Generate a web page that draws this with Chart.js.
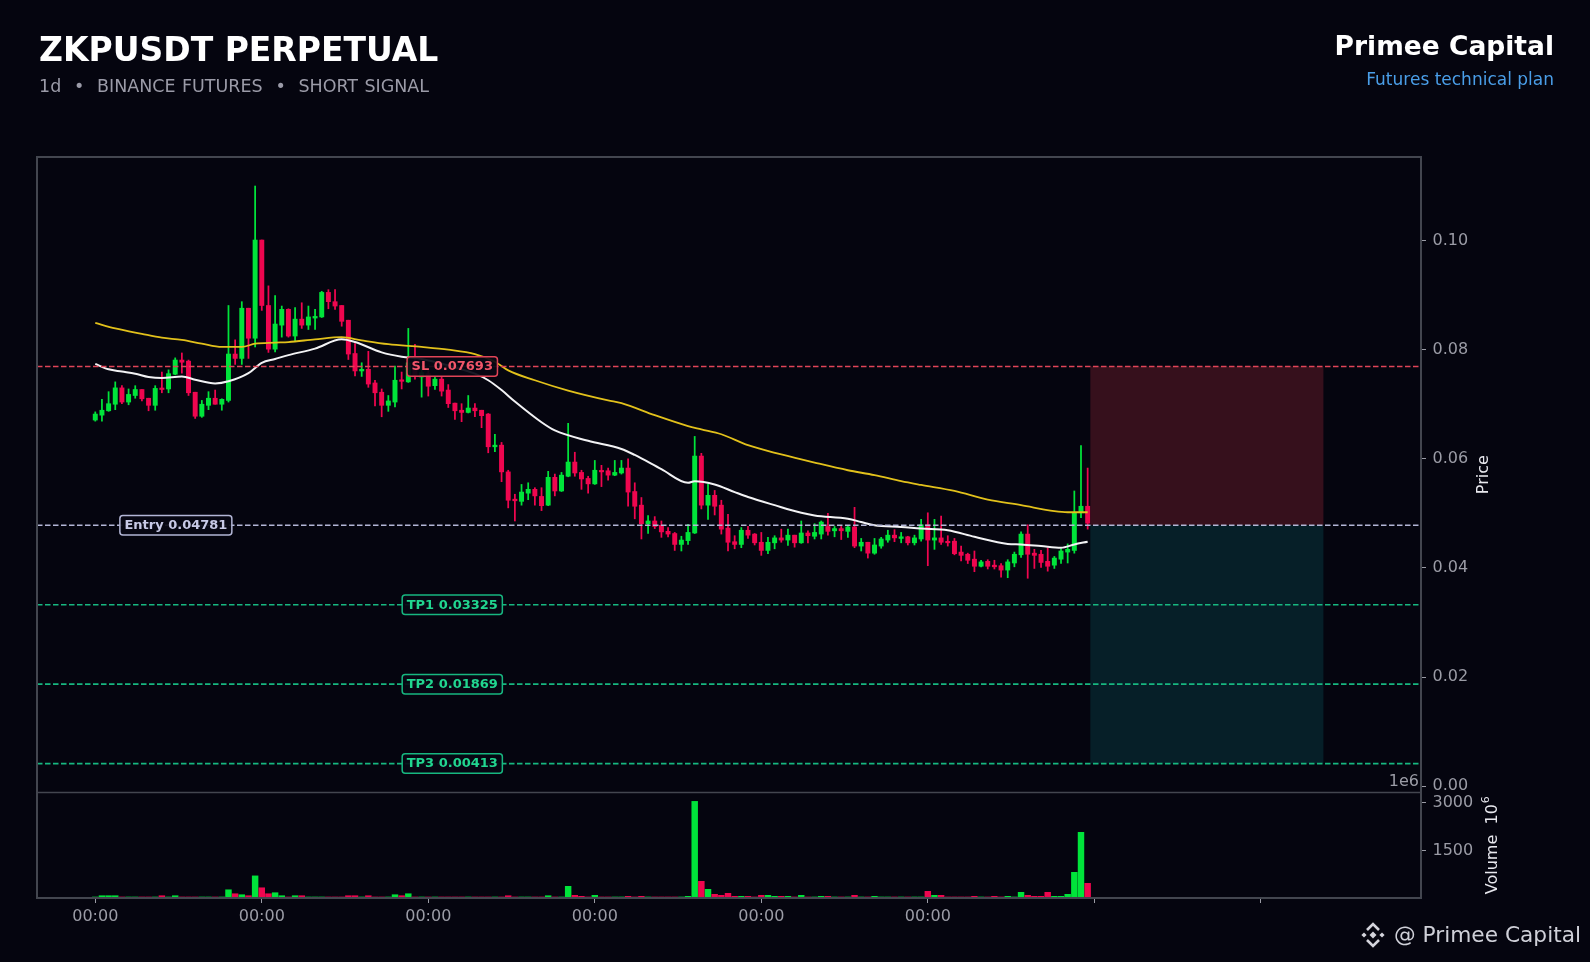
<!DOCTYPE html>
<html>
<head>
<meta charset="utf-8">
<title>ZKPUSDT PERPETUAL</title>
<script src="https://cdn.jsdelivr.net/npm/chart.js@4.4.1/dist/chart.umd.min.js"></script>
<style>
  html, body { margin: 0; padding: 0; background: #05050f; }
  #wrap { position: relative; width: 1590px; height: 962px; overflow: hidden; font-family: "DejaVu Sans", sans-serif; }
  #chart { position: absolute; left: 0; top: 0; }
  .t { position: absolute; white-space: pre; line-height: 1; }
  #title { left: 39px; top: 33px; font-size: 33px; font-weight: bold; color: #ffffff; }
  #subtitle { left: 39px; top: 78px; font-size: 17.5px; word-spacing: 0.8px; color: #9b9ba8; }
  #brand { right: 36px; top: 33px; font-size: 26.5px; font-weight: bold; color: #ffffff; }
  #tagline { right: 36px; top: 71px; font-size: 17px; color: #4a9ee8; }
  #watermark { right: 9px; top: 924px; font-size: 21.7px; color: #cfd0d8; }
</style>
</head>
<body>
<div id="wrap">
  <canvas id="chart" width="1590" height="962"></canvas>
  <div class="t" id="title">ZKPUSDT PERPETUAL</div>
  <div class="t" id="subtitle">1d  •  BINANCE FUTURES  •  SHORT SIGNAL</div>
  <div class="t" id="brand">Primee Capital</div>
  <div class="t" id="tagline">Futures technical plan</div>
  <div class="t" id="watermark">@ Primee Capital</div>
</div>
<script>
// daily candles
const opens = [
  0.0671,0.0680,0.0688,0.0700,0.0730,0.0704,0.0716,0.0727,0.0711,0.0698,
  0.0729,0.0728,0.0755,0.0781,0.0779,0.0722,0.0678,0.0698,0.0711,0.0700,
  0.0707,0.0792,0.0784,0.0876,0.0821,0.1001,0.0881,0.0801,0.0845,0.0874,
  0.0825,0.0856,0.0845,0.0858,0.0860,0.0905,0.0888,0.0881,0.0854,0.0793,
  0.0761,0.0764,0.0739,0.0722,0.0698,0.0704,0.0744,0.0741,0.0776,0.0750,
  0.0756,0.0734,0.0746,0.0726,0.0702,0.0689,0.0685,0.0693,0.0689,0.0682,
  0.0622,0.0625,0.0576,0.0526,0.0522,0.0537,0.0544,0.0531,0.0515,0.0566,
  0.0541,0.0568,0.0594,0.0575,0.0564,0.0554,0.0578,0.0578,0.0570,0.0574,
  0.0583,0.0540,0.0515,0.0481,0.0486,0.0478,0.0467,0.0463,0.0443,0.0450,
  0.0464,0.0605,0.0515,0.0533,0.0515,0.0473,0.0448,0.0443,0.0469,0.0462,
  0.0447,0.0432,0.0446,0.0455,0.0451,0.0460,0.0446,0.0464,0.0458,0.0462,
  0.0476,0.0468,0.0472,0.0467,0.0475,0.0440,0.0447,0.0427,0.0440,0.0451,
  0.0460,0.0454,0.0457,0.0446,0.0453,0.0479,0.0451,0.0455,0.0448,0.0449,
  0.0429,0.0425,0.0416,0.0403,0.0412,0.0405,0.0404,0.0396,0.0409,0.0424,
  0.0462,0.0427,0.0425,0.0412,0.0405,0.0416,0.0429,0.0432,0.0501,0.0513
];
const highs = [
  0.0686,0.0709,0.0723,0.0741,0.0734,0.0728,0.0734,0.0727,0.0711,0.0734,
  0.0759,0.0763,0.0785,0.0794,0.0781,0.0722,0.0707,0.0723,0.0726,0.0710,
  0.0881,0.0818,0.0888,0.0876,0.1100,0.1001,0.0917,0.0899,0.0880,0.0875,
  0.0877,0.0886,0.0880,0.0874,0.0907,0.0910,0.0910,0.0881,0.0854,0.0811,
  0.0776,0.0797,0.0744,0.0728,0.0716,0.0770,0.0759,0.0839,0.0810,0.0770,
  0.0762,0.0751,0.0751,0.0736,0.0702,0.0701,0.0716,0.0701,0.0689,0.0683,
  0.0645,0.0630,0.0579,0.0535,0.0553,0.0556,0.0547,0.0547,0.0577,0.0572,
  0.0575,0.0665,0.0612,0.0579,0.0568,0.0597,0.0588,0.0583,0.0597,0.0597,
  0.0600,0.0556,0.0529,0.0496,0.0494,0.0486,0.0474,0.0465,0.0458,0.0480,
  0.0641,0.0610,0.0553,0.0542,0.0524,0.0498,0.0459,0.0474,0.0476,0.0463,
  0.0465,0.0456,0.0459,0.0471,0.0471,0.0460,0.0486,0.0468,0.0481,0.0486,
  0.0500,0.0476,0.0476,0.0477,0.0511,0.0454,0.0447,0.0454,0.0456,0.0469,
  0.0470,0.0465,0.0458,0.0460,0.0489,0.0501,0.0489,0.0495,0.0459,0.0454,
  0.0440,0.0427,0.0431,0.0414,0.0415,0.0414,0.0408,0.0415,0.0429,0.0466,
  0.0479,0.0434,0.0432,0.0437,0.0421,0.0435,0.0444,0.0541,0.0624,0.0583
];
const lows = [
  0.0669,0.0669,0.0687,0.0690,0.0701,0.0699,0.0711,0.0706,0.0688,0.0689,
  0.0721,0.0721,0.0754,0.0757,0.0716,0.0674,0.0676,0.0690,0.0700,0.0689,
  0.0704,0.0773,0.0773,0.0784,0.0805,0.0872,0.0795,0.0796,0.0823,0.0823,
  0.0815,0.0839,0.0837,0.0837,0.0859,0.0875,0.0874,0.0843,0.0782,0.0752,
  0.0751,0.0731,0.0697,0.0677,0.0687,0.0695,0.0728,0.0740,0.0746,0.0713,
  0.0715,0.0727,0.0715,0.0694,0.0672,0.0668,0.0684,0.0677,0.0657,0.0611,
  0.0613,0.0558,0.0510,0.0486,0.0515,0.0525,0.0515,0.0505,0.0514,0.0532,
  0.0540,0.0567,0.0568,0.0544,0.0537,0.0553,0.0549,0.0561,0.0569,0.0572,
  0.0513,0.0490,0.0453,0.0463,0.0472,0.0456,0.0457,0.0432,0.0431,0.0443,
  0.0463,0.0508,0.0489,0.0497,0.0462,0.0431,0.0435,0.0437,0.0454,0.0442,
  0.0423,0.0426,0.0435,0.0447,0.0441,0.0438,0.0445,0.0446,0.0453,0.0453,
  0.0460,0.0457,0.0452,0.0456,0.0437,0.0431,0.0418,0.0425,0.0436,0.0447,
  0.0448,0.0446,0.0442,0.0442,0.0449,0.0404,0.0434,0.0443,0.0440,0.0424,
  0.0413,0.0408,0.0393,0.0402,0.0398,0.0398,0.0383,0.0382,0.0402,0.0419,
  0.0381,0.0399,0.0401,0.0394,0.0399,0.0408,0.0409,0.0427,0.0492,0.0471
];
const closes = [
  0.0682,0.0689,0.0701,0.0730,0.0704,0.0718,0.0727,0.0710,0.0698,0.0729,
  0.0727,0.0756,0.0781,0.0777,0.0721,0.0678,0.0700,0.0711,0.0700,0.0709,
  0.0792,0.0784,0.0876,0.0821,0.1001,0.0881,0.0801,0.0847,0.0874,0.0825,
  0.0856,0.0845,0.0860,0.0861,0.0905,0.0888,0.0880,0.0852,0.0792,0.0761,
  0.0764,0.0737,0.0721,0.0698,0.0706,0.0744,0.0742,0.0776,0.0753,0.0758,
  0.0733,0.0746,0.0724,0.0701,0.0688,0.0685,0.0693,0.0688,0.0679,0.0622,
  0.0625,0.0576,0.0524,0.0523,0.0539,0.0544,0.0532,0.0514,0.0566,0.0541,
  0.0570,0.0594,0.0574,0.0563,0.0554,0.0579,0.0576,0.0570,0.0575,0.0583,
  0.0539,0.0513,0.0481,0.0486,0.0476,0.0466,0.0462,0.0443,0.0451,0.0465,
  0.0605,0.0515,0.0533,0.0513,0.0471,0.0447,0.0443,0.0469,0.0460,0.0446,
  0.0432,0.0447,0.0455,0.0451,0.0460,0.0446,0.0464,0.0459,0.0465,0.0484,
  0.0467,0.0472,0.0468,0.0475,0.0440,0.0447,0.0427,0.0442,0.0453,0.0460,
  0.0455,0.0457,0.0446,0.0455,0.0479,0.0451,0.0455,0.0447,0.0446,0.0426,
  0.0423,0.0414,0.0403,0.0411,0.0403,0.0402,0.0396,0.0411,0.0425,0.0462,
  0.0425,0.0423,0.0410,0.0403,0.0418,0.0431,0.0434,0.0501,0.0513,0.0482
];
// volume in millions
const volumes = [
  31,72,72,72,31,31,31,31,31,31,
  72,31,72,31,31,31,31,31,31,31,
  259,134,103,72,697,322,134,166,72,31,
  72,72,31,31,31,31,31,31,72,72,
  31,72,31,31,31,103,72,134,31,31,
  31,31,31,31,31,31,31,31,31,31,
  31,31,72,31,31,31,31,31,72,31,
  31,368,84,53,25,84,25,25,25,25,
  53,25,53,25,25,25,25,25,25,53,
  3045,525,273,116,84,147,53,53,53,25,
  84,84,53,53,53,25,84,25,25,53,
  53,25,25,25,84,25,25,53,25,25,
  25,25,25,25,25,210,84,84,25,25,
  25,25,53,25,25,53,25,53,25,179,
  84,53,53,179,53,53,116,809,2069,462
];

// moving averages
const fastMaIdx = [0,2,4,6,8,10,13,15,18,20,23,25,27,29,33,37,39,43,46,49,53,57,59,61,63,67,69,74,79,81,85,89,90,93,96,98,102,106,108,113,115,117,121,124,128,132,137,139,142,145,147,149];
const fastMaVal = [0.0774,0.0764,0.0760,0.0756,0.0750,0.0748,0.0751,0.0745,0.0738,0.0742,0.0757,0.0776,0.0783,0.0790,0.0802,0.0819,0.0814,0.0795,0.0787,0.0783,0.0771,0.0756,0.0744,0.0726,0.0705,0.0667,0.0652,0.0633,0.0618,0.0607,0.0581,0.0556,0.0559,0.0553,0.0539,0.0530,0.0515,0.0501,0.0496,0.0490,0.0484,0.0478,0.0475,0.0472,0.0469,0.0457,0.0444,0.0443,0.0440,0.0437,0.0443,0.0448];
const slowMaIdx = [0,3,7,10,13,16,19,22,24,27,29,33,37,40,44,49,53,57,60,62,66,71,77,79,84,89,91,94,98,103,108,113,117,121,124,129,134,139,144,146,149];
const slowMaVal = [0.0849,0.0839,0.0829,0.0822,0.0818,0.0811,0.0805,0.0805,0.0811,0.0813,0.0814,0.0819,0.0823,0.0817,0.0810,0.0805,0.0800,0.0792,0.0778,0.0762,0.0744,0.0725,0.0707,0.0702,0.0680,0.0660,0.0654,0.0645,0.0625,0.0608,0.0593,0.0579,0.0570,0.0559,0.0552,0.0541,0.0525,0.0515,0.0504,0.0502,0.0502];

// trade plan levels
const levelNames  = ['SL', 'Entry', 'TP1', 'TP2', 'TP3'];
const levelValues = [0.07693, 0.04781, 0.03325, 0.01869, 0.00413];

// axis ticks
const tickIndex   = [0, 25, 50, 75, 100, 125, 150, 175];
const tickLabels  = ['00:00', '00:00', '00:00', '00:00', '00:00', '00:00', '', ''];
const priceTicks  = [0, 0.02, 0.04, 0.06, 0.08, 0.10];
const volumeTicks = [1500, 3000];


// ---- look ----
const UP = '#00e43a';
const DOWN = '#ef064f';
const TICK = '#9b9ca6';
const FRAME = '#43464f';

const X_MIN = -8.75, X_MAX = 199.05;
const PRICE_MIN = -0.02051, PRICE_MAX = 0.11532;
const PRICE_FLOOR = -0.00115;    // bottom of the price panel
const VOL_MAX = 23354;

const levelStyles = [
  { line: '#e04457', text: '#f2566a', at: 53.6 },
  { line: '#b3b6d6', text: '#c7c9e6', at: 12.1 },
  { line: '#17b780', text: '#21d690', at: 53.6 },
  { line: '#17b780', text: '#21d690', at: 53.6 },
  { line: '#17b780', text: '#21d690', at: 53.6 }
];

Chart.defaults.font.family = '"DejaVu Sans", sans-serif';

const candleColors = closes.map((c, i) => c >= opens[i] ? UP : DOWN);

const levelDatasets = levelValues.map((v, i) => ({
  type: 'line',
  label: levelNames[i],
  data: [{ x: X_MIN, y: v }, { x: X_MAX, y: v }],
  borderColor: levelStyles[i].line,
  borderWidth: 1.6,
  borderDash: [5.5, 2.5],
  pointRadius: 0,
  yAxisID: 'y',
  order: 0
}));


const tradePlan = {
  id: 'tradePlan',
  beforeDatasetsDraw(chart) {
    const { ctx, scales: { x, y } } = chart;
    const x0 = x.getPixelForValue(149.4);
    const x1 = x.getPixelForValue(184.4);
    const ySL = y.getPixelForValue(levelValues[0]);
    const yEn = y.getPixelForValue(levelValues[1]);
    const yTP = y.getPixelForValue(levelValues[4]);
    ctx.save();
    ctx.fillStyle = '#36101c';
    ctx.fillRect(x0, ySL, x1 - x0, yEn - ySL);
    ctx.fillStyle = '#061f28';
    ctx.fillRect(x0, yEn, x1 - x0, yTP - yEn);
    ctx.restore();
  },
  afterDatasetsDraw(chart) {
    const { ctx, scales: { x, y } } = chart;
    ctx.save();
    ctx.font = 'bold 13px "DejaVu Sans"';
    ctx.textAlign = 'center';
    ctx.textBaseline = 'middle';
    levelValues.forEach((v, i) => {
      const st = levelStyles[i];
      const text = levelNames[i] + ' ' + v.toFixed(5);
      const w = ctx.measureText(text).width + 9;
      const h = 19.5;
      const cx = x.getPixelForValue(st.at);
      const cy = y.getPixelForValue(v);
      ctx.beginPath();
      ctx.roundRect(cx - w / 2, cy - h / 2, w, h, 3);
      ctx.fillStyle = 'rgba(8, 8, 20, 0.92)';
      ctx.fill();
      ctx.lineWidth = 1.5;
      ctx.strokeStyle = st.line;
      ctx.stroke();
      ctx.fillStyle = st.text;
      ctx.fillText(text, cx, cy + 0.5);
    });
    ctx.restore();
  },
  afterDraw(chart) {
    const { ctx, chartArea: a, scales: { y, yv } } = chart;
    ctx.save();
    // panel frame + separator
    ctx.strokeStyle = FRAME;
    ctx.lineWidth = 2;
    ctx.strokeRect(a.left, a.top, a.width, a.height);
    const sep = y.getPixelForValue(PRICE_FLOOR);
    ctx.lineWidth = 1.5;
    ctx.beginPath();
    ctx.moveTo(a.left, sep);
    ctx.lineTo(a.right, sep);
    ctx.stroke();

    // volume tick labels (the volume axis has no width of its own)
    ctx.fillStyle = TICK;
    ctx.font = '16px "DejaVu Sans"';
    ctx.textAlign = 'left';
    ctx.textBaseline = 'middle';
    volumeTicks.forEach(v => ctx.fillText(String(v), a.right + 11.5, yv.getPixelForValue(v)));

    // offset text of the volume axis
    ctx.textAlign = 'right';
    ctx.fillText('1e6', a.right - 2, sep - 11);

    // axis titles
    ctx.fillStyle = '#e8e8ee';
    ctx.textAlign = 'center';
    ctx.save();
    ctx.translate(a.right + 63, (a.top + sep) / 2);
    ctx.rotate(-Math.PI / 2);
    ctx.fillText('Price', 0, 0);
    ctx.restore();

    ctx.save();
    ctx.translate(a.right + 72, (sep + yv.getPixelForValue(0)) / 2);
    ctx.rotate(-Math.PI / 2);
    const main = 'Volume  10';
    const mw = ctx.measureText(main).width;
    ctx.textAlign = 'left';
    ctx.fillText(main, -mw / 2 - 4, 0);
    ctx.font = '11px "DejaVu Sans"';
    ctx.fillText('6', mw / 2 - 3, -7);
    ctx.restore();

    // watermark mark
    const ix = 1373, iy = 935;
    ctx.fillStyle = '#d4d4dc';
    const diamond = (cx, cy, r) => {
      ctx.beginPath();
      ctx.moveTo(cx, cy - r); ctx.lineTo(cx + r, cy);
      ctx.lineTo(cx, cy + r); ctx.lineTo(cx - r, cy);
      ctx.closePath(); ctx.fill();
    };
    diamond(ix, iy, 3.5);
    diamond(ix - 9, iy, 2.6);
    diamond(ix + 9, iy, 2.6);
    ctx.strokeStyle = '#d4d4dc';
    ctx.lineWidth = 2.6;
    ctx.beginPath();
    ctx.moveTo(ix - 6, iy - 5); ctx.lineTo(ix, iy - 11); ctx.lineTo(ix + 6, iy - 5);
    ctx.moveTo(ix - 6, iy + 5); ctx.lineTo(ix, iy + 11); ctx.lineTo(ix + 6, iy + 5);
    ctx.stroke();
    ctx.restore();
  }
};


const ctx = document.getElementById('chart').getContext('2d');
new Chart(ctx, {
  type: 'bar',
  data: {
    datasets: [
      ...levelDatasets,
      {
        type: 'line', label: 'MA fast',
        data: fastMaIdx.map((x, i) => ({ x, y: fastMaVal[i] })),
        borderColor: '#f2f2f4', borderWidth: 2, pointRadius: 0,
        cubicInterpolationMode: 'monotone', yAxisID: 'y', order: 1
      },
      {
        type: 'line', label: 'MA slow',
        data: slowMaIdx.map((x, i) => ({ x, y: slowMaVal[i] })),
        borderColor: '#e2c11b', borderWidth: 1.8, pointRadius: 0,
        cubicInterpolationMode: 'monotone', yAxisID: 'y', order: 1
      },
      {
        label: 'body',
        data: opens.map((o, i) => ({ x: i, y: [Math.min(o, closes[i]), Math.max(o, closes[i])] })),
        backgroundColor: candleColors,
        barThickness: 4.3, minBarLength: 1.5, grouped: false,
        yAxisID: 'y', order: 2
      },
      {
        label: 'wick',
        data: lows.map((l, i) => ({ x: i, y: [l, highs[i]] })),
        backgroundColor: candleColors,
        barThickness: 1.1, grouped: false,
        yAxisID: 'y', order: 3
      },
      {
        label: 'volume',
        data: volumes.map((v, i) => ({ x: i, y: v })),
        backgroundColor: candleColors,
        barThickness: 5.8, minBarLength: 1, grouped: false,
        yAxisID: 'yv', order: 4
      }
    ]
  },
  options: {
    responsive: false,
    animation: false,
    events: [],
    layout: { padding: { left: 37, top: 157, right: 59, bottom: 24 } },
    plugins: { legend: { display: false }, tooltip: { enabled: false }, title: { display: false } },
    scales: {
      x: {
        type: 'linear', min: X_MIN, max: X_MAX, offset: false,
        border: { display: false },
        grid: { offset: false, drawOnChartArea: false, tickLength: 5, color: TICK },
        afterBuildTicks: s => { s.ticks = tickIndex.map(v => ({ value: v })); },
        afterFit: s => { s.height = 40; },
        ticks: {
          autoSkip: false, maxRotation: 0, color: TICK, font: { size: 16 }, padding: 4,
          callback: v => tickLabels[tickIndex.indexOf(v)] ?? ''
        }
      },
      yv: {
        type: 'linear', position: 'right', weight: 0, min: 0, max: VOL_MAX,
        border: { display: false },
        grid: { drawOnChartArea: false, tickLength: 5, color: TICK },
        afterBuildTicks: s => { s.ticks = volumeTicks.map(v => ({ value: v })); },
        afterFit: s => { s.width = 0; },
        ticks: { display: false }
      },
      y: {
        type: 'linear', position: 'right', weight: 1, min: PRICE_MIN, max: PRICE_MAX,
        border: { display: false },
        grid: { drawOnChartArea: false, tickLength: 5, color: TICK },
        afterBuildTicks: s => { s.ticks = priceTicks.map(v => ({ value: v })); },
        afterFit: s => { s.width = 110; },
        ticks: { color: TICK, font: { size: 16 }, padding: 6.5, callback: v => v.toFixed(2) }
      }
    }
  },
  plugins: [tradePlan]
});
</script>
</body>
</html>
